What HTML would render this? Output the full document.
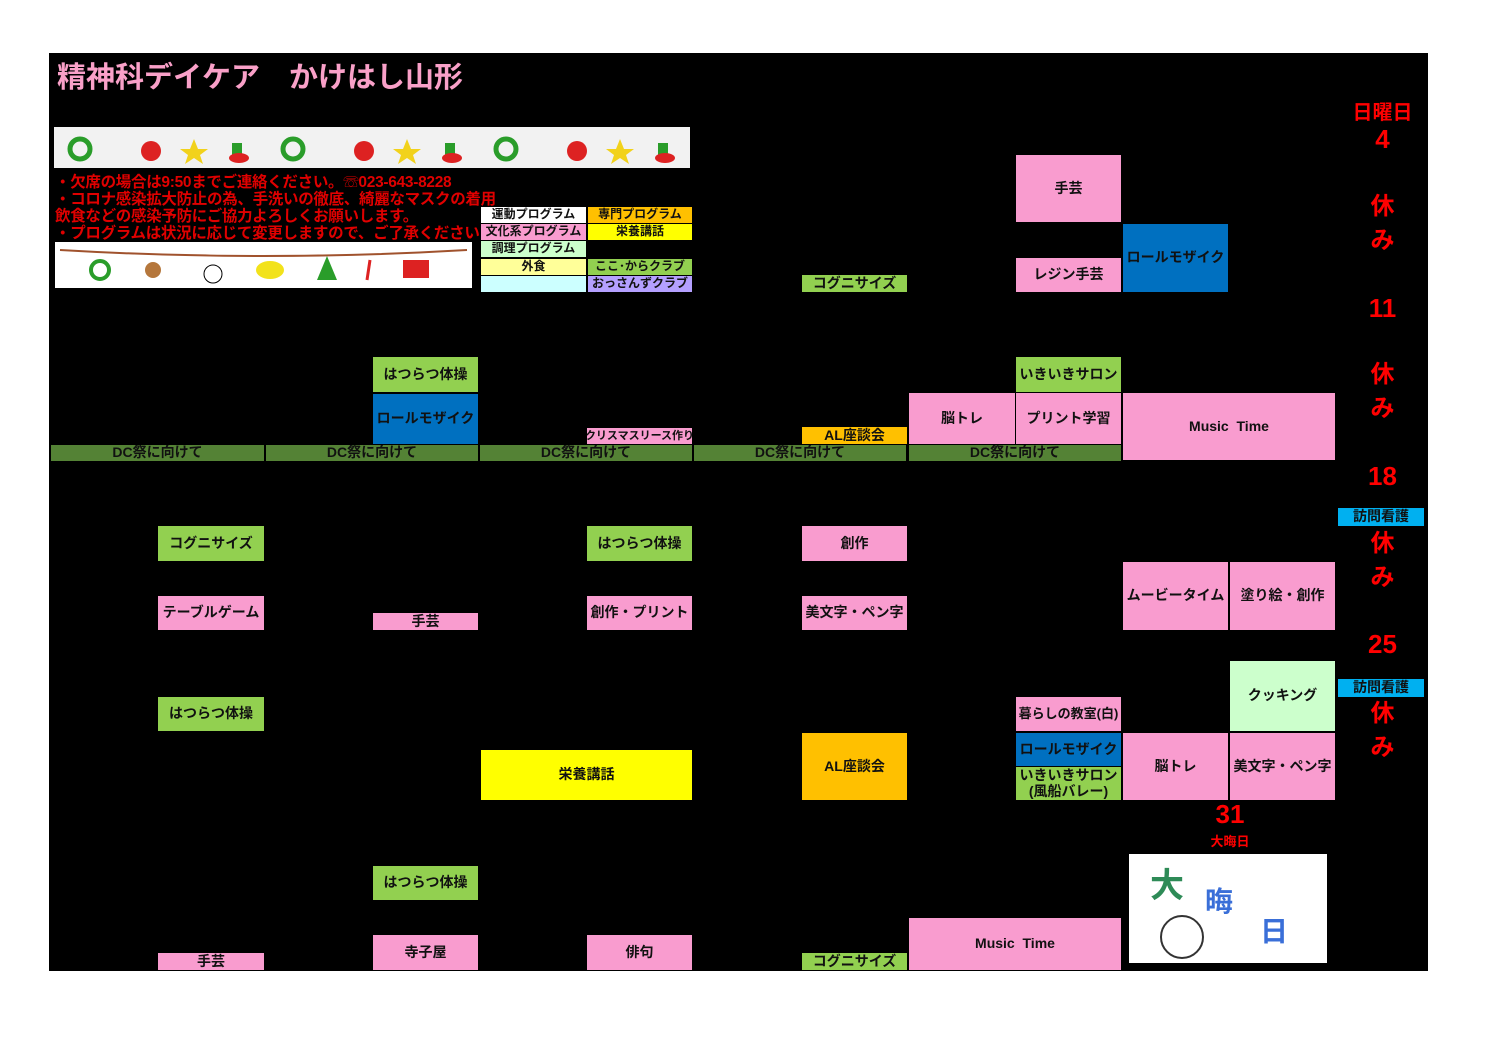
<!DOCTYPE html>
<html><head><meta charset="utf-8"><style>
body{margin:0;width:1497px;height:1058px;background:#fff;position:relative;overflow:hidden;font-family:"Liberation Sans","Noto Sans CJK JP",sans-serif;}
#bg{position:absolute;left:49px;top:53px;width:1379px;height:918px;background:#000;}
.b{position:absolute;display:flex;align-items:center;justify-content:center;font-weight:bold;font-size:14px;color:#111;text-align:center;line-height:1.1;box-sizing:border-box;white-space:nowrap;overflow:hidden}
.p{background:#f99ccf}.g{background:#92d050}.bl{background:#0070c0}.o{background:#ffc000}.y{background:#ffff00}.dg{background:#548235}.lg{background:#ccffcc}
.r{position:absolute;color:#f00;font-weight:bold;text-align:center;}
.lt{position:absolute;left:55px;color:#e00000;font-weight:bold;font-size:15.5px;white-space:nowrap;letter-spacing:-0.3px}
</style></head><body>
<div id="bg"></div>
<div style="position:absolute;left:57px;top:54px;font-size:29px;font-weight:bold;color:#f9a0c8;white-space:nowrap">精神科デイケア　かけはし山形</div>
<div style="position:absolute;left:54px;top:127px;width:636px;height:41px;background:#f2f2f2"></div>
<svg style="position:absolute;left:54px;top:127px" width="636" height="41">
<g><circle cx="26" cy="22" r="10" fill="none" stroke="#2a9d2a" stroke-width="5"/><circle cx="97" cy="24" r="10" fill="#d22"/><polygon points="140,12 144,22 154,22 146,28 149,37 140,31 131,37 134,28 126,22 136,22" fill="#f2d21b"/><rect x="178" y="16" width="10" height="14" fill="#2a9d2a"/><ellipse cx="185" cy="31" rx="10" ry="5" fill="#d22"/></g>
<g transform="translate(213,0)"><circle cx="26" cy="22" r="10" fill="none" stroke="#2a9d2a" stroke-width="5"/><circle cx="97" cy="24" r="10" fill="#d22"/><polygon points="140,12 144,22 154,22 146,28 149,37 140,31 131,37 134,28 126,22 136,22" fill="#f2d21b"/><rect x="178" y="16" width="10" height="14" fill="#2a9d2a"/><ellipse cx="185" cy="31" rx="10" ry="5" fill="#d22"/></g>
<g transform="translate(426,0)"><circle cx="26" cy="22" r="10" fill="none" stroke="#2a9d2a" stroke-width="5"/><circle cx="97" cy="24" r="10" fill="#d22"/><polygon points="140,12 144,22 154,22 146,28 149,37 140,31 131,37 134,28 126,22 136,22" fill="#f2d21b"/><rect x="178" y="16" width="10" height="14" fill="#2a9d2a"/><ellipse cx="185" cy="31" rx="10" ry="5" fill="#d22"/></g>
</svg>
<div class="lt" style="top:170px">・欠席の場合は9:50までご連絡ください。☏023-643-8228</div>
<div class="lt" style="top:187px">・コロナ感染拡大防止の為、手洗いの徹底、綺麗なマスクの着用</div>
<div class="lt" style="top:204px">飲食などの感染予防にご協力よろしくお願いします。</div>
<div class="lt" style="top:221px;width:425px;overflow:hidden">・プログラムは状況に応じて変更しますので、ご了承ください</div>
<div style="position:absolute;left:55px;top:242px;width:417px;height:46px;background:#fff"></div>
<svg style="position:absolute;left:55px;top:242px" width="417" height="46">
<path d="M5 8 Q208 20 412 8" stroke="#a0522d" stroke-width="2" fill="none"/>
<circle cx="45" cy="28" r="9" fill="none" stroke="#2a9d2a" stroke-width="4"/><circle cx="98" cy="28" r="8" fill="#b5773c"/><circle cx="158" cy="32" r="9" fill="#fff" stroke="#000"/><ellipse cx="215" cy="28" rx="14" ry="9" fill="#f2e21b"/><polygon points="272,14 262,38 282,38" fill="#2a9d2a"/><path d="M312 38 L315 18" stroke="#d22" stroke-width="3"/><rect x="348" y="18" width="26" height="18" fill="#d22"/>
</svg>
<div class="b" style="left:481px;top:207px;width:105px;height:16px;background:#fff;font-size:12px">運動プログラム</div>
<div class="b o" style="left:588px;top:207px;width:104px;height:16px;font-size:12px">専門プログラム</div>
<div class="b p" style="left:481px;top:224px;width:105px;height:16px;font-size:12px">文化系プログラム</div>
<div class="b y" style="left:588px;top:224px;width:104px;height:16px;font-size:12px">栄養講話</div>
<div class="b lg" style="left:481px;top:241px;width:105px;height:16px;font-size:12px">調理プログラム</div>
<div class="b" style="left:481px;top:259px;width:105px;height:16px;background:#ffff99;font-size:12px">外食</div>
<div class="b g" style="left:588px;top:259px;width:104px;height:16px;font-size:12px">ここ･からクラブ</div>
<div class="b" style="left:481px;top:276px;width:105px;height:16px;background:#ccffff"></div>
<div class="b" style="left:588px;top:276px;width:104px;height:16px;background:#b4a0ff;font-size:12px">おっさんずクラブ</div>

<div class="r" style="left:1340px;top:96px;width:85px;font-size:20px">日曜日</div>
<div class="r" style="left:1340px;top:124px;width:85px;font-size:26px">4</div>
<div class="r" style="left:1340px;top:190px;width:85px;font-size:24px;line-height:34px">休<br>み</div>
<div class="r" style="left:1340px;top:293px;width:85px;font-size:26px">11</div>
<div class="r" style="left:1340px;top:358px;width:85px;font-size:24px;line-height:34px">休<br>み</div>
<div class="r" style="left:1340px;top:461px;width:85px;font-size:26px">18</div>
<div class="b" style="left:1338px;top:508px;width:86px;height:18px;background:#00b0f0">訪問看護</div>
<div class="r" style="left:1340px;top:527px;width:85px;font-size:24px;line-height:34px">休<br>み</div>
<div class="r" style="left:1340px;top:629px;width:85px;font-size:26px">25</div>
<div class="b" style="left:1338px;top:679px;width:86px;height:18px;background:#00b0f0">訪問看護</div>
<div class="r" style="left:1340px;top:697px;width:85px;font-size:24px;line-height:34px">休<br>み</div>
<div class="r" style="left:1200px;top:799px;width:60px;font-size:26px">31</div>
<div class="r" style="left:1200px;top:831px;width:60px;font-size:13px">大晦日</div>
<div style="position:absolute;left:1129px;top:854px;width:198px;height:109px;background:#fff"></div>
<div style="position:absolute;left:1150px;top:858px;font-size:34px;font-weight:bold;color:#2e8b57">大</div>
<div style="position:absolute;left:1205px;top:880px;font-size:28px;font-weight:bold;color:#3a6fd8">晦</div>
<div style="position:absolute;left:1260px;top:910px;font-size:28px;font-weight:bold;color:#3a6fd8">日</div>
<div style="position:absolute;left:1160px;top:915px;width:40px;height:40px;border-radius:50%;background:#fff;border:2px solid #333"></div>

<div class="b p" style="left:1016px;top:155px;width:105px;height:67px">手芸</div>
<div class="b p" style="left:1016px;top:258px;width:105px;height:34px">レジン手芸</div>
<div class="b bl" style="left:1123px;top:224px;width:105px;height:68px">ロールモザイク</div>
<div class="b g" style="left:802px;top:275px;width:105px;height:17px">コグニサイズ</div>

<div class="b g" style="left:373px;top:357px;width:105px;height:35px">はつらつ体操</div>
<div class="b bl" style="left:373px;top:394px;width:105px;height:50px">ロールモザイク</div>
<div class="b p" style="left:587px;top:428px;width:105px;height:16px;font-size:11px">クリスマスリース作り</div>
<div class="b o" style="left:802px;top:427px;width:105px;height:17px">AL座談会</div>
<div class="b p" style="left:909px;top:393px;width:106px;height:51px">脳トレ</div>
<div class="b p" style="left:1016px;top:393px;width:105px;height:51px">プリント学習</div>
<div class="b g" style="left:1016px;top:357px;width:105px;height:35px">いきいきサロン</div>
<div class="b p" style="left:1123px;top:393px;width:212px;height:67px">Music&nbsp;&nbsp;Time</div>
<div class="b dg" style="left:51px;top:445px;width:213px;height:16px">DC祭に向けて</div>
<div class="b dg" style="left:266px;top:445px;width:212px;height:16px">DC祭に向けて</div>
<div class="b dg" style="left:480px;top:445px;width:212px;height:16px">DC祭に向けて</div>
<div class="b dg" style="left:694px;top:445px;width:212px;height:16px">DC祭に向けて</div>
<div class="b dg" style="left:909px;top:445px;width:212px;height:16px">DC祭に向けて</div>

<div class="b g" style="left:158px;top:526px;width:106px;height:35px">コグニサイズ</div>
<div class="b p" style="left:158px;top:596px;width:106px;height:34px">テーブルゲーム</div>
<div class="b p" style="left:373px;top:613px;width:105px;height:17px">手芸</div>
<div class="b g" style="left:587px;top:526px;width:105px;height:35px">はつらつ体操</div>
<div class="b p" style="left:587px;top:596px;width:105px;height:34px">創作・プリント</div>
<div class="b p" style="left:802px;top:526px;width:105px;height:35px">創作</div>
<div class="b p" style="left:802px;top:596px;width:105px;height:34px">美文字・ペン字</div>
<div class="b p" style="left:1123px;top:562px;width:105px;height:68px">ムービータイム</div>
<div class="b p" style="left:1230px;top:562px;width:105px;height:68px">塗り絵・創作</div>

<div class="b g" style="left:158px;top:697px;width:106px;height:34px">はつらつ体操</div>
<div class="b y" style="left:481px;top:750px;width:211px;height:50px">栄養講話</div>
<div class="b o" style="left:802px;top:733px;width:105px;height:67px">AL座談会</div>
<div class="b p" style="left:1016px;top:697px;width:105px;height:34px;font-size:13px">暮らしの教室(白)</div>
<div class="b bl" style="left:1016px;top:733px;width:105px;height:33px">ロールモザイク</div>
<div class="b g" style="left:1016px;top:767px;width:105px;height:33px">いきいきサロン<br>(風船バレー)</div>
<div class="b p" style="left:1123px;top:733px;width:105px;height:67px">脳トレ</div>
<div class="b lg" style="left:1230px;top:661px;width:105px;height:70px">クッキング</div>
<div class="b p" style="left:1230px;top:733px;width:105px;height:67px">美文字・ペン字</div>

<div class="b g" style="left:373px;top:866px;width:105px;height:34px">はつらつ体操</div>
<div class="b p" style="left:158px;top:953px;width:106px;height:17px">手芸</div>
<div class="b p" style="left:373px;top:935px;width:105px;height:35px">寺子屋</div>
<div class="b p" style="left:587px;top:935px;width:105px;height:35px">俳句</div>
<div class="b g" style="left:802px;top:953px;width:105px;height:17px">コグニサイズ</div>
<div class="b p" style="left:909px;top:918px;width:212px;height:52px">Music&nbsp;&nbsp;Time</div>
</body></html>
